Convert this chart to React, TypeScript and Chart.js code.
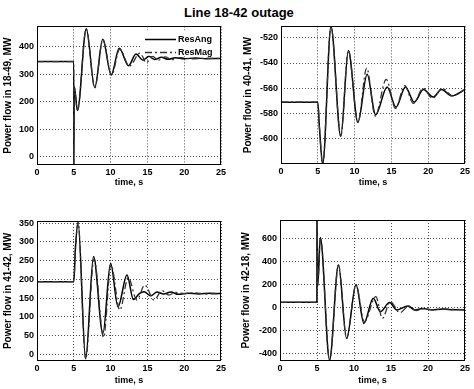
import React, { useEffect, useRef } from "react";
import { Chart, registerables } from "chart.js";

Chart.register(...registerables);

const TITLE = "Line 18-42 outage";
const SERIES_NAMES = ["ResAng", "ResMag"];
const X_LABEL = "time, s";
const X_TICKS = [0, 5, 10, 15, 20, 25];

// Panel 1: 18-49
const P1_LABEL = "Power flow in 18-49, MW";
const P1_Y_TICKS = [0, 100, 200, 300, 400];
const P1_ANG_T = [0, 4.99, 5.0, 5.06, 5.5, 6.69, 7.85, 8.93, 10.08, 11.18, 12.43, 13.45, 14.4, 15.2, 16.0, 16.9, 17.8, 18.8, 20.0, 21.5, 23.0, 25];
const P1_ANG_V = [347, 347, -30, 255, 169, 466, 252, 428, 299, 395, 332, 374, 352, 366, 354, 363, 355, 361, 357, 360, 357, 358];
const P1_MAG_T = [0, 4.99, 5.0, 5.06, 5.5, 6.69, 7.85, 8.95, 10.12, 11.25, 12.55, 14.0, 14.85, 15.7, 16.5, 17.4, 18.4, 19.5, 21.0, 23.0, 25];
const P1_MAG_V = [347, 347, -30, 255, 169, 466, 250, 428, 297, 392, 330, 378, 343, 366, 352, 364, 354, 361, 357, 359, 358];

// Panel 2: 40-41
const P2_LABEL = "Power flow in 40-41, MW";
const P2_Y_TICKS = [-600, -580, -560, -540, -520];
const P2_ANG_T = [0, 5.0, 5.22, 5.67, 6.79, 8.12, 9.15, 10.45, 11.7, 12.86, 14.42, 15.63, 16.9, 18.1, 19.35, 20.7, 21.8, 23.2, 25];
const P2_ANG_V = [-571, -571, -591, -620, -511, -598, -530, -587, -549, -581, -559, -575, -559, -571, -561, -567, -561, -566, -561];
const P2_MAG_T = [0, 5.0, 5.22, 5.67, 6.79, 8.12, 9.15, 10.45, 11.65, 12.8, 14.3, 15.55, 16.8, 18.0, 19.3, 20.6, 21.9, 23.3, 25];
const P2_MAG_V = [-571, -571, -591, -620, -511, -598, -530, -587, -544, -582, -553, -576, -558, -572, -560, -568, -560, -566, -561];

// Panel 3: 41-42
const P3_LABEL = "Power flow in 41-42, MW";
const P3_Y_TICKS = [0, 50, 100, 150, 200, 250, 300, 350];
const P3_ANG_T = [0, 5.0, 5.22, 5.58, 6.61, 7.68, 8.95, 10.0, 11.0, 12.23, 13.1, 13.9, 14.55, 15.45, 16.3, 17.2, 18.2, 19.2, 20.5, 22.0, 23.5, 25];
const P3_ANG_V = [194, 194, 283, 352, -12, 261, 55, 243, 127, 212, 146, 162, 167, 156, 166, 161, 166, 160, 163, 161, 163, 162];
const P3_MAG_T = [0, 5.0, 5.22, 5.58, 6.61, 7.75, 9.05, 10.05, 11.25, 12.4, 13.57, 14.64, 15.9, 17.0, 17.9, 18.8, 20.0, 21.5, 23.0, 25];
const P3_MAG_V = [194, 194, 283, 352, -12, 255, 45, 240, 118, 205, 145, 185, 145, 170, 158, 165, 162, 164, 161, 162];

// Panel 4: 42-18
const P4_LABEL = "Power flow in 42-18, MW";
const P4_Y_TICKS = [-400, -200, 0, 200, 400, 600];
const P4_ANG_T = [0, 4.99, 5.0, 5.1, 5.45, 6.7, 7.9, 9.0, 10.27, 11.34, 12.6, 13.57, 14.8, 15.8, 17.3, 18.2, 19.3, 20.5, 22.0, 23.5, 25];
const P4_ANG_V = [43, 43, 760, 190, 606, -458, 368, -271, 196, -140, 79, -38, 41, -23, 12, -23, -10, -22, -15, -22, -22];
const P4_MAG_T = [0, 4.99, 5.0, 5.1, 5.45, 6.7, 7.9, 9.0, 10.27, 11.4, 12.95, 13.84, 14.9, 16.2, 17.4, 18.4, 19.5, 20.5, 22.0, 25];
const P4_MAG_V = [43, 43, 760, 190, 606, -458, 368, -271, 196, -125, 93, -96, 50, -47, 10, -28, -12, -22, -15, -22];

const FONT = "'Liberation Sans', Arial, Helvetica, sans-serif";

type Panel = {
  label: string;
  yTicks: number[];
  yMin: number;
  yMax: number;
  angT: number[];
  angV: number[];
  magT: number[];
  magV: number[];
  left: number;
  top: number;
  w: number;
  h: number;
  padTop: number;
  padRight: number;
  yW: number;
  xH: number;
  yTitlePad: number;
  xTitlePad: number;
  legend: boolean;
};

const PANELS: Panel[] = [
  { label: P1_LABEL, yTicks: P1_Y_TICKS, yMin: -30, yMax: 475, angT: P1_ANG_T, angV: P1_ANG_V, magT: P1_MAG_T, magV: P1_MAG_V,
    left: 0, top: 18, w: 237, h: 175, padTop: 5, padRight: 16, yW: 37, xH: 28, yTitlePad: 2, xTitlePad: 4.6, legend: true },
  { label: P2_LABEL, yTicks: P2_Y_TICKS, yMin: -620, yMax: -511, angT: P2_ANG_T, angV: P2_ANG_V, magT: P2_MAG_T, magV: P2_MAG_V,
    left: 237, top: 18, w: 237, h: 175, padTop: 6, padRight: 9, yW: 44, xH: 29, yTitlePad: 5, xTitlePad: 4.6, legend: false },
  { label: P3_LABEL, yTicks: P3_Y_TICKS, yMin: -18, yMax: 356, angT: P3_ANG_T, angV: P3_ANG_V, magT: P3_MAG_T, magV: P3_MAG_V,
    left: 0, top: 205, w: 237, h: 184, padTop: 16, padRight: 16, yW: 37, xH: 28, yTitlePad: 2, xTitlePad: 2.6, legend: false },
  { label: P4_LABEL, yTicks: P4_Y_TICKS, yMin: -467, yMax: 759, angT: P4_ANG_T, angV: P4_ANG_V, magT: P4_MAG_T, magV: P4_MAG_V,
    left: 237, top: 205, w: 237, h: 184, padTop: 15, padRight: 9, yW: 43, xH: 28, yTitlePad: 3, xTitlePad: 2.6, legend: false },
];

const pts = (t: number[], v: number[]) => t.map((x, i) => ({ x, y: v[i] }));

const boxPlugin = {
  id: "box",
  afterDatasetsDraw(chart: any) {
    const { ctx, chartArea } = chart;
    const l = Math.round(chartArea.left) + 0.5;
    const t = Math.round(chartArea.top) + 0.5;
    const r = Math.round(chartArea.right) - 0.5;
    const b = Math.round(chartArea.bottom) - 0.5;
    ctx.save();
    ctx.strokeStyle = "#000";
    ctx.lineWidth = 1;
    ctx.setLineDash([]);
    ctx.strokeRect(l, t, r - l, b - t);
    ctx.restore();
  },
};

const legendPlugin = {
  id: "insideLegend",
  afterDraw(chart: any, _args: any, opts: any) {
    if (!opts || !opts.show) return;
    const { ctx, chartArea } = chart;
    const right = chartArea.right;
    const top = chartArea.top;
    ctx.save();
    ctx.fillStyle = "#fff";
    ctx.fillRect(right - 79, top + 4, 76, 25);
    const order = [1, 0];
    order.forEach((di, row) => {
      const ds = chart.data.datasets[di];
      const y = Math.round(top + 12.5 + row * 12.6) + 0.5;
      ctx.beginPath();
      ctx.strokeStyle = ds.borderColor;
      ctx.lineWidth = ds.borderWidth;
      ctx.setLineDash(ds.borderDash || []);
      ctx.moveTo(right - 76, y);
      ctx.lineTo(right - 45, y);
      ctx.stroke();
      ctx.setLineDash([]);
      ctx.fillStyle = "#000";
      ctx.font = `bold 9px ${FONT}`;
      ctx.textBaseline = "middle";
      ctx.textAlign = "left";
      ctx.fillText(ds.label, right - 43, y);
    });
    ctx.restore();
  },
};

function PanelChart({ p }: { p: Panel }) {
  const ref = useRef<HTMLCanvasElement | null>(null);
  useEffect(() => {
    if (!ref.current) return;
    const chart = new Chart(ref.current, {
      type: "line",
      data: {
        datasets: [
          {
            label: SERIES_NAMES[1],
            data: pts(p.magT, p.magV),
            borderColor: "#333",
            borderWidth: 1.3,
            borderDash: [7, 3, 2, 3],
            pointRadius: 0,
            cubicInterpolationMode: "monotone",
            fill: false,
          },
          {
            label: SERIES_NAMES[0],
            data: pts(p.angT, p.angV),
            borderColor: "#000",
            borderWidth: 1.5,
            pointRadius: 0,
            cubicInterpolationMode: "monotone",
            fill: false,
          },
        ],
      },
      options: {
        animation: false,
        responsive: false,
        maintainAspectRatio: false,
        devicePixelRatio: 1,
        layout: { padding: { top: p.padTop, right: p.padRight, left: 0, bottom: 0 } },
        plugins: {
          legend: { display: false },
          tooltip: { enabled: false },
          insideLegend: { show: p.legend },
        } as any,
        scales: {
          x: {
            type: "linear",
            min: 0,
            max: 25,
            afterBuildTicks: (s: any) => {
              s.ticks = X_TICKS.map((v) => ({ value: v }));
            },
            afterFit: (s: any) => {
              s.height = p.xH;
            },
            grid: { color: "rgba(0,0,0,0.7)", lineWidth: 1, drawTicks: false },
            border: { display: false, dash: [1, 2] },
            ticks: {
              color: "#000",
              padding: 2,
              maxRotation: 0,
              autoSkip: false,
              font: { family: FONT, size: 9, weight: "bold" },
            },
            title: {
              display: true,
              text: X_LABEL,
              color: "#000",
              font: { family: FONT, size: 9, weight: "bold" },
              padding: { top: 0, bottom: p.xTitlePad },
            },
          },
          y: {
            type: "linear",
            min: p.yMin,
            max: p.yMax,
            afterBuildTicks: (s: any) => {
              s.ticks = p.yTicks.map((v) => ({ value: v }));
            },
            afterFit: (s: any) => {
              s.width = p.yW;
            },
            grid: { color: "rgba(0,0,0,0.7)", lineWidth: 1, drawTicks: false },
            border: { display: false, dash: [1, 2] },
            ticks: {
              color: "#000",
              padding: 3,
              autoSkip: false,
              font: { family: FONT, size: 9, weight: "bold" },
            },
            title: {
              display: true,
              text: p.label,
              color: "#000",
              font: { family: FONT, size: 10, weight: "bold" },
              padding: { top: p.yTitlePad, bottom: 0 },
            },
          },
        },
      } as any,
      plugins: [boxPlugin, legendPlugin],
    });
    return () => chart.destroy();
  }, [p]);
  return (
    <canvas
      ref={ref}
      width={p.w}
      height={p.h}
      style={{ position: "absolute", left: p.left, top: p.top, width: p.w, height: p.h }}
    />
  );
}

export default function App() {
  return (
    <div
      style={{
        position: "fixed",
        left: 0,
        top: 0,
        width: 474,
        height: 389,
        background: "#fff",
        overflow: "hidden",
      }}
    >
      <div
        style={{
          position: "absolute",
          left: 184,
          top: 5,
          font: `bold 13px ${FONT}`,
          lineHeight: "15px",
          color: "#000",
          whiteSpace: "nowrap",
        }}
      >
        {TITLE}
      </div>
      {PANELS.map((p, i) => (
        <PanelChart key={i} p={p} />
      ))}
    </div>
  );
}
